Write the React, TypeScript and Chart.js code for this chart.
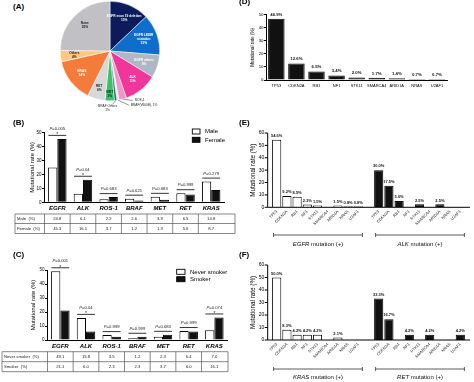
import React, { useEffect, useRef } from 'react';
import { Chart, registerables } from 'chart.js';

Chart.register(...registerables);

const FONT = "'Liberation Sans', Arial, Helvetica, sans-serif";
Chart.defaults.font.family = FONT;
Chart.defaults.color = '#000';

// ---------- DATA ----------
// Panel A
const pieCategories = ['EGFR exon 19 deletion', 'EGFR L858R mutation', 'EGFR others', 'ALK', 'ROS-1', 'BRAF(V600E)', 'BRAF Others', 'MET', 'RET', 'KRAS', 'Others', 'None'];
const pieShares = [13, 13.5, 7.5, 11, 2.5, 0.7, 0.8, 3, 5.8, 14.3, 3.7, 25];
const pieShareLabels = ['13%', '13%', '8%', '11%', '2%', '1%', '1%', '3%', '6%', '14%', '4%', '25%'];
const pieTextLines = [['EGFR exon 19 deletion'], ['EGFR L858R', 'mutation'], ['EGFR others'], ['ALK'], ['ROS-1'], ['BRAF(V600E),'], ['BRAF Others'], ['MET'], ['RET'], ['KRAS'], ['Others'], ['None']];
const pieColors = ['#0c1b5c', '#0f6dcc', '#aeb7c6', '#f0369b', '#f595c6', '#dfeaf2', '#0b6e78', '#3dbf66', '#d8d8d8', '#f57b3b', '#fdc880', '#c0c0c5'];

// Panels B, C
const genes = ['EGFR', 'ALK', 'ROS-1', 'BRAF', 'MET', 'RET', 'KRAS'];
const maleRates = [24.8, 6.1, 2.2, 2.6, 3.9, 6.5, 14.8];
const femaleRates = [45.3, 16.1, 3.7, 1.2, 1.9, 5.6, 8.7];
const sexPValues = ['0.005', '0.04', '0.683', '0.621', '0.683', '0.999', '0.279'];
const sexStars = [true, true, false, false, false, false, false];
const neverSmokerRates = [49.1, 15.8, 3.5, 1.2, 2.3, 6.4, 7.0];
const smokerRates = [21.1, 6.0, 2.3, 2.3, 3.7, 6.0, 16.1];
const smokePValues = ['0.001', '0.04', '0.999', '0.999', '0.683', '0.999', '0.074'];
const smokeStars = [true, true, false, false, false, false, true];

// Panels D, E, F
const coGenes = ['TP53', 'CDKN2A', 'RB1', 'NF1', 'STK11', 'SMARCA4', 'ARID1A', 'NRAS', 'U2AF1'];
const overallCoMut = [46.9, 12.6, 6.5, 3.4, 2.0, 1.7, 1.4, 0.7, 0.7];
const egfrCoMut = [54.6, 9.2, 8.5, 2.3, 1.5, 0, 1.5, 0.8, 0.8];
const alkCoMut = [30.0, 17.5, 5.0, 0, 2.5, 0, 2.5, 0, 0];
const krasCoMut = [50.0, 8.3, 4.2, 4.2, 4.2, 0, 2.1, 0, 0];
const retCoMut = [33.3, 16.7, 0, 4.2, 0, 4.2, 0, 0, 4.2];

// ---------- HELPERS ----------
type Area = { l: number; t: number; r: number; b: number };
type Run = { t: string; s?: string; w?: string };

function fnt(size: number, weight = 'normal', style = 'normal') {
  return `${style} ${weight} ${size}px ${FONT}`;
}

function drawRuns(ctx: CanvasRenderingContext2D, runs: Run[], x: number, y: number, size: number, align: 'center' | 'left' = 'center') {
  let total = 0;
  const widths = runs.map((r) => {
    ctx.font = fnt(size, r.w || 'normal', r.s || 'normal');
    const w = ctx.measureText(r.t).width;
    total += w;
    return w;
  });
  let cx = align === 'center' ? x - total / 2 : x;
  ctx.textAlign = 'left';
  ctx.textBaseline = 'middle';
  runs.forEach((r, i) => {
    ctx.font = fnt(size, r.w || 'normal', r.s || 'normal');
    ctx.fillText(r.t, cx, y);
    cx += widths[i];
  });
}

function line(ctx: CanvasRenderingContext2D, x1: number, y1: number, x2: number, y2: number) {
  ctx.beginPath();
  ctx.moveTo(x1, y1);
  ctx.lineTo(x2, y2);
  ctx.stroke();
}

function yTitle(ctx: CanvasRenderingContext2D, x: number, y: number, size: number) {
  ctx.save();
  ctx.translate(x, y);
  ctx.rotate(-Math.PI / 2);
  ctx.font = fnt(size);
  ctx.fillStyle = '#000';
  ctx.textAlign = 'center';
  ctx.textBaseline = 'middle';
  ctx.fillText('Mutational rate (%)', 0, 0);
  ctx.restore();
}

function baseOptions(W: number, a: Area) {
  return {
    responsive: false,
    maintainAspectRatio: false,
    animation: false as const,
    devicePixelRatio: 1,
    events: [] as any[],
    layout: { padding: { left: 0, top: a.t, right: W - a.r, bottom: 0 } },
    plugins: { legend: { display: false }, tooltip: { enabled: false } },
  };
}

function yAxisStd(a: Area, max: number, size: number, pad: number) {
  return {
    min: 0,
    max,
    afterFit: (s: any) => { s.width = a.l; },
    ticks: { stepSize: 10, font: { size }, color: '#000', padding: pad },
    grid: { display: true, drawOnChartArea: false, drawTicks: true, tickLength: 2.5, color: '#000', lineWidth: 1 },
    border: { display: true, color: '#000', width: 1 },
  };
}

function xAxisStd(a: Area, H: number, font: any, pad: number) {
  return {
    afterFit: (s: any) => { s.height = H - a.b; },
    grid: { display: false, drawTicks: false },
    border: { display: true, color: '#000', width: 1 },
    ticks: { font, color: '#000', padding: pad, autoSkip: false, maxRotation: 0, minRotation: 0 },
  };
}

// ---------- PANEL A ----------
function pieConfig() {
  const W = 160, H = 115;
  const extras = {
    id: 'pieExtras',
    afterDraw(chart: any) {
      const ctx: CanvasRenderingContext2D = chart.ctx;
      const meta = chart.getDatasetMeta(0);
      ctx.save();
      meta.data.forEach((arc: any, i: number) => {
        const p = arc.getProps(['x', 'y', 'startAngle', 'endAngle', 'outerRadius'], true);
        const mid = (p.startAngle + p.endAngle) / 2;
        const R = p.outerRadius;
        const lines = pieTextLines[i].slice();
        const dark = [0, 1, 2, 3, 9].includes(i);
        ctx.fillStyle = dark ? '#fff' : '#222';
        ctx.strokeStyle = '#333';
        ctx.lineWidth = 0.5;
        const ex = p.x + Math.cos(mid) * R, ey = p.y + Math.sin(mid) * R;
        if (i === 4) {
          ctx.fillStyle = '#222';
          line(ctx, ex, ey, ex + 10, ey + 1.5);
          drawRuns(ctx, [{ t: lines[0] }], ex + 12, ey + 1.5, 3.2, 'left');
          return;
        }
        if (i === 5) {
          ctx.fillStyle = '#222';
          line(ctx, ex, ey, ex + 11, ey + 5);
          drawRuns(ctx, [{ t: lines[0] + ' ' + pieShareLabels[i] }], ex + 13, ey + 5, 3.2, 'left');
          return;
        }
        if (i === 6) {
          ctx.fillStyle = '#222';
          line(ctx, ex, ey, ex - 3, ey + 4);
          drawRuns(ctx, [{ t: lines[0] }], ex - 8, ey + 6, 3.2);
          drawRuns(ctx, [{ t: pieShareLabels[i] }], ex - 8, ey + 10, 3.2);
          return;
        }
        const rf = i === 7 ? 0.86 : i === 8 ? 0.78 : 0.72;
        const cx = p.x + Math.cos(mid) * R * rf, cy = p.y + Math.sin(mid) * R * rf;
        lines.push(pieShareLabels[i]);
        const lh = 4;
        lines.forEach((t, k) => {
          drawRuns(ctx, [{ t, w: 'bold' }], cx, cy + (k - (lines.length - 1) / 2) * lh, 3.2);
        });
      });
      ctx.restore();
    },
  };
  return {
    type: 'pie',
    data: {
      labels: pieCategories,
      datasets: [{ data: pieShares, backgroundColor: pieColors, borderColor: '#fff', borderWidth: 0.5 }],
    },
    options: {
      responsive: false,
      maintainAspectRatio: false,
      animation: false,
      devicePixelRatio: 1,
      events: [],
      layout: { padding: { left: 20, top: 1, right: W - 120, bottom: H - 101 } },
      plugins: { legend: { display: false }, tooltip: { enabled: false } },
    },
    plugins: [extras],
  };
}

// ---------- PANELS B, C ----------
type GroupOpts = {
  W: number; H: number; a: Area;
  first: number[]; second: number[]; names: [string, string];
  pvals: string[]; stars: boolean[];
  legend: { x: number; y1: number; y2: number; bw: number; tx: number };
  table: { left: number; right: number; top: number; mid: number; bottom: number; labels: [string, string]; lx: number };
  titleX: number;
};

function groupConfig(o: GroupOpts) {
  const catPct = 0.72;
  const extras = {
    id: 'groupExtras',
    afterDraw(chart: any) {
      const ctx: CanvasRenderingContext2D = chart.ctx;
      const xs = chart.scales.x, ys = chart.scales.y, ca = chart.chartArea;
      ctx.save();
      yTitle(ctx, o.titleX, (ca.top + ca.bottom) / 2, 6);
      const step = xs.getPixelForValue(1) - xs.getPixelForValue(0);
      const half = (step * catPct) / 2 - 0.3;
      ctx.strokeStyle = '#000';
      ctx.fillStyle = '#222';
      ctx.lineWidth = 0.8;
      genes.forEach((g, i) => {
        const cx = xs.getPixelForValue(i);
        const top = Math.min(ys.getPixelForValue(o.first[i]), ys.getPixelForValue(o.second[i]));
        const ly = top - 3.5;
        line(ctx, cx - half, ly, cx + half, ly);
        if (o.stars[i]) {
          ctx.font = fnt(5);
          ctx.textAlign = 'center';
          ctx.textBaseline = 'alphabetic';
          ctx.fillText('*', cx, ly + 0.8);
        }
        drawRuns(ctx, [{ t: 'P', s: 'italic' }, { t: '=' + o.pvals[i] }], cx, o.stars[i] ? ly - 6.5 : ly - 4.5, 4.2);
      });
      // legend
      ctx.fillStyle = '#000';
      const L = o.legend;
      ctx.lineWidth = 0.9;
      ctx.fillStyle = '#fff';
      ctx.fillRect(L.x, L.y1, L.bw, 5);
      ctx.strokeRect(L.x, L.y1, L.bw, 5);
      ctx.fillStyle = '#111';
      ctx.fillRect(L.x, L.y2, L.bw, 5);
      ctx.strokeRect(L.x, L.y2, L.bw, 5);
      ctx.fillStyle = '#000';
      drawRuns(ctx, [{ t: o.names[0] }], L.tx, L.y1 + 2.6, 6, 'left');
      drawRuns(ctx, [{ t: o.names[1] }], L.tx, L.y2 + 2.6, 6, 'left');
      // table
      const T = o.table;
      ctx.strokeStyle = '#555';
      ctx.lineWidth = 0.7;
      [T.top, T.mid, T.bottom].forEach((y) => line(ctx, T.left, y, T.right, y));
      const xsV = [T.left];
      genes.forEach((g, i) => xsV.push(xs.getPixelForValue(i) - step / 2));
      xsV.push(T.right);
      xsV.forEach((x) => line(ctx, x, T.top, x, T.bottom));
      ctx.fillStyle = '#222';
      const r1 = (T.top + T.mid) / 2, r2 = (T.mid + T.bottom) / 2;
      drawRuns(ctx, [{ t: T.labels[0] }], T.lx, r1, 4.2, 'left');
      drawRuns(ctx, [{ t: T.labels[1] }], T.lx, r2, 4.2, 'left');
      genes.forEach((g, i) => {
        const cx = xs.getPixelForValue(i);
        drawRuns(ctx, [{ t: o.first[i].toFixed(1) }], cx, r1, 4.2);
        drawRuns(ctx, [{ t: o.second[i].toFixed(1) }], cx, r2, 4.2);
      });
      ctx.restore();
    },
  };
  return {
    type: 'bar',
    data: {
      labels: genes,
      datasets: [
        { label: o.names[0], data: o.first, backgroundColor: '#fff', borderColor: '#000', borderWidth: 1, categoryPercentage: catPct, barPercentage: 1 },
        { label: o.names[1], data: o.second, backgroundColor: '#111', borderColor: '#000', borderWidth: 1, categoryPercentage: catPct, barPercentage: 1 },
      ],
    },
    options: {
      ...baseOptions(o.W, o.a),
      scales: {
        x: xAxisStd(o.a, o.H, { size: 6, weight: 'bold', style: 'italic' }, 2.5),
        y: yAxisStd(o.a, 50, 4.5, 0.5),
      },
    },
    plugins: [extras],
  };
}

// ---------- PANEL D ----------
function overallConfig() {
  const W = 237, H = 118;
  const a: Area = { l: 29.3, t: 14.7, r: 210, b: 80 };
  const extras = {
    id: 'dExtras',
    afterDraw(chart: any) {
      const ctx: CanvasRenderingContext2D = chart.ctx;
      const xs = chart.scales.x, ys = chart.scales.y, ca = chart.chartArea;
      ctx.save();
      yTitle(ctx, 16, (ca.top + ca.bottom) / 2, 4.6);
      ctx.fillStyle = '#111';
      overallCoMut.forEach((v, i) => {
        drawRuns(ctx, [{ t: v.toFixed(1) + '%', w: 'bold' }], xs.getPixelForValue(i), ys.getPixelForValue(v) - 4.3, 4.3);
      });
      ctx.restore();
    },
  };
  return {
    type: 'bar',
    data: {
      labels: coGenes,
      datasets: [{ data: overallCoMut, backgroundColor: '#111', borderColor: '#000', borderWidth: 1, categoryPercentage: 1, barPercentage: 0.82 }],
    },
    options: {
      ...baseOptions(W, a),
      scales: {
        x: xAxisStd(a, H, { size: 4 }, 3),
        y: yAxisStd(a, 50, 4.3, 0.3),
      },
    },
    plugins: [extras],
  };
}

// ---------- PANELS E, F ----------
type CoOpts = {
  W: number; H: number; a: Area;
  left: number[]; right: number[];
  leftTitle: Run[]; rightTitle: Run[];
  axisX: number; axisRight: number; bracketY: number; textY: number;
};

function coMutConfig(o: CoOpts) {
  const raw = [...o.left, 0, ...o.right];
  const values = raw.map((v) => (v === 0 ? null : v));
  const colors = raw.map((v, i) => (i < o.left.length + 1 ? '#fff' : '#111'));
  const labels = [...coGenes, '', ...coGenes];
  const max = 60;
  const extras = {
    id: 'coExtras',
    afterDraw(chart: any) {
      const ctx: CanvasRenderingContext2D = chart.ctx;
      const xs = chart.scales.x, ys = chart.scales.y, ca = chart.chartArea;
      ctx.save();
      ctx.strokeStyle = '#000';
      ctx.lineWidth = 1;
      ctx.beginPath();
      ctx.moveTo(o.axisX, ys.getPixelForValue(max));
      ctx.lineTo(o.axisX, ca.bottom);
      ctx.lineTo(o.axisRight, ca.bottom);
      ctx.stroke();
      ys.ticks.forEach((t: any) => {
        const y = ys.getPixelForValue(t.value);
        line(ctx, o.axisX - 3, y, o.axisX, y);
      });
      ctx.fillStyle = '#111';
      raw.forEach((v, i) => {
        if (!v) return;
        drawRuns(ctx, [{ t: v.toFixed(1) + '%', w: 'bold' }], xs.getPixelForValue(i), ys.getPixelForValue(v) - 3.8, 4);
      });
      const step = xs.getPixelForValue(1) - xs.getPixelForValue(0);
      const groups: [number, number, Run[]][] = [[0, o.left.length - 1, o.leftTitle], [o.left.length + 1, raw.length - 1, o.rightTitle]];
      ctx.strokeStyle = '#333';
      ctx.lineWidth = 0.8;
      ctx.fillStyle = '#111';
      groups.forEach(([s, e, title]) => {
        const x1 = xs.getPixelForValue(s) - step / 2 + 2;
        const x2 = xs.getPixelForValue(e) + step / 2 - 1;
        line(ctx, x1, o.bracketY, x2, o.bracketY);
        line(ctx, x1, o.bracketY - 2, x1, o.bracketY + 2);
        line(ctx, x2, o.bracketY - 2, x2, o.bracketY + 2);
        drawRuns(ctx, title, (x1 + x2) / 2, o.textY, 6);
      });
      yTitle(ctx, 16.7, (ca.top + ca.bottom) / 2, 6.3);
      ctx.restore();
    },
  };
  return {
    type: 'bar',
    data: {
      labels,
      datasets: [{ data: values, backgroundColor: colors, borderColor: '#000', borderWidth: 1, categoryPercentage: 1, barPercentage: 0.9 }],
    },
    options: {
      ...baseOptions(o.W, o.a),
      scales: {
        x: {
          afterFit: (s: any) => { s.height = o.H - o.a.b; },
          grid: { display: false, drawTicks: false },
          border: { display: false },
          ticks: { font: { size: 4 }, color: '#222', padding: 2, autoSkip: false, maxRotation: 45, minRotation: 45 },
        },
        y: {
          min: 0,
          max,
          afterFit: (s: any) => { s.width = o.a.l; },
          ticks: { stepSize: 10, font: { size: 5 }, color: '#000', padding: o.a.l - o.axisX + 3.3 },
          grid: { display: false, drawTicks: false },
          border: { display: false },
        },
      },
    },
    plugins: [extras],
  };
}

// ---------- COMPONENTS ----------
function ChartBox({ left, top, width, height, make }: { left: number; top: number; width: number; height: number; make: () => any }) {
  const ref = useRef<HTMLCanvasElement | null>(null);
  useEffect(() => {
    if (!ref.current) return;
    const chart = new Chart(ref.current, make());
    return () => chart.destroy();
  }, []);
  return <canvas ref={ref} width={width} height={height} style={{ position: 'absolute', left, top, width, height }} />;
}

function PanelLabel({ text, x, y }: { text: string; x: number; y: number }) {
  return (
    <div style={{ position: 'absolute', left: x, top: y, font: `bold 8px ${FONT}`, lineHeight: '8px', color: '#000' }}>{text}</div>
  );
}

const B_OPTS: GroupOpts = {
  W: 237, H: 132,
  a: { l: 44.5, t: 14.3, r: 224, b: 84.3 },
  first: maleRates, second: femaleRates, names: ['Male', 'Female'],
  pvals: sexPValues, stars: sexStars,
  legend: { x: 192.3, y1: 11, y2: 19.3, bw: 7.7, tx: 205 },
  table: { left: 15, right: 235, top: 96, mid: 105.5, bottom: 115.5, labels: ['Male  (%)', 'Female  (%)'], lx: 17 },
  titleX: 32,
};

const C_OPTS: GroupOpts = {
  W: 237, H: 132,
  a: { l: 47.5, t: 20, r: 227.2, b: 90 },
  first: neverSmokerRates, second: smokerRates, names: ['Never smoker', 'Smoker'],
  pvals: smokePValues, stars: smokeStars,
  legend: { x: 176.7, y1: 19.3, y2: 26.7, bw: 8.3, tx: 190 },
  table: { left: 2, right: 228, top: 101.7, mid: 111.7, bottom: 121.7, labels: ['Never smoker  (%)', 'Smoker  (%)'], lx: 4 },
  titleX: 33.3,
};

const E_OPTS: CoOpts = {
  W: 237, H: 132,
  a: { l: 34.6, t: 15, r: 228.4, b: 89.3 },
  left: egfrCoMut, right: alkCoMut,
  leftTitle: [{ t: 'EGFR', s: 'italic' }, { t: ' mutation (+)' }],
  rightTitle: [{ t: 'ALK', s: 'italic' }, { t: ' mutation (+)' }],
  axisX: 30.7, axisRight: 233, bracketY: 117, textY: 126.5,
};

const F_OPTS: CoOpts = {
  W: 237, H: 132,
  a: { l: 34.6, t: 15, r: 228.4, b: 90 },
  left: krasCoMut, right: retCoMut,
  leftTitle: [{ t: 'KRAS', s: 'italic' }, { t: ' mutation (+)' }],
  rightTitle: [{ t: 'RET', s: 'italic' }, { t: ' mutation (+)' }],
  axisX: 30.7, axisRight: 233, bracketY: 119, textY: 127.5,
};

export default function App() {
  return (
    <div style={{ position: 'fixed', left: 0, top: 0, width: 474, height: 382, background: '#fff', overflow: 'hidden' }}>
      <ChartBox left={40} top={0} width={160} height={115} make={pieConfig} />
      <ChartBox left={0} top={118} width={237} height={132} make={() => groupConfig(B_OPTS)} />
      <ChartBox left={0} top={250} width={237} height={132} make={() => groupConfig(C_OPTS)} />
      <ChartBox left={237} top={0} width={237} height={118} make={overallConfig} />
      <ChartBox left={237} top={118} width={237} height={132} make={() => coMutConfig(E_OPTS)} />
      <ChartBox left={237} top={250} width={237} height={132} make={() => coMutConfig(F_OPTS)} />
      <PanelLabel text="(A)" x={13} y={3} />
      <PanelLabel text="(B)" x={13} y={119} />
      <PanelLabel text="(C)" x={13} y={251} />
      <PanelLabel text="(D)" x={239} y={-2} />
      <PanelLabel text="(E)" x={239} y={119} />
      <PanelLabel text="(F)" x={239} y={251} />
    </div>
  );
}
